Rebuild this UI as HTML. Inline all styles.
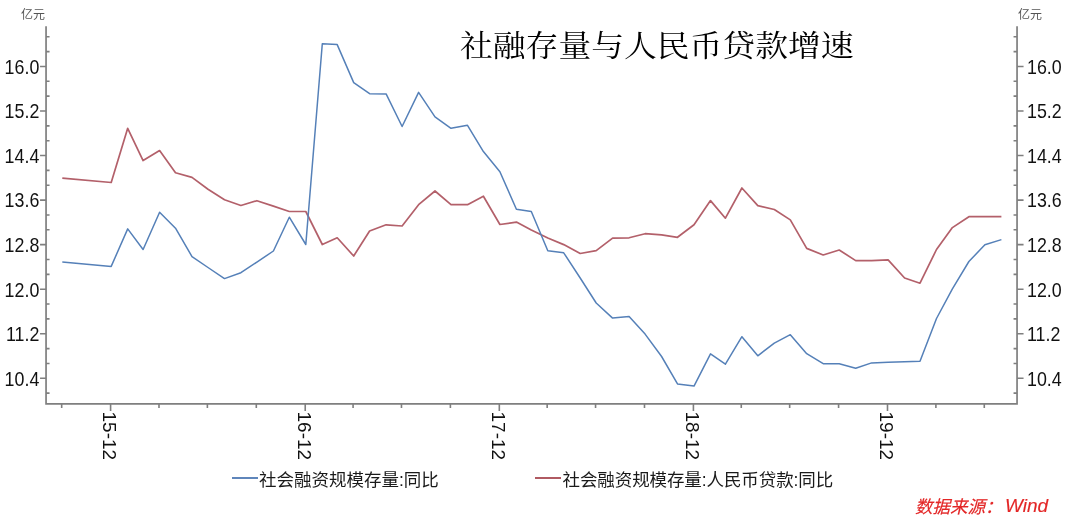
<!DOCTYPE html>
<html><head><meta charset="utf-8"><title>社融存量与人民币贷款增速</title>
<style>
html,body{margin:0;padding:0;background:#fff;}
body{width:1080px;height:521px;overflow:hidden;position:relative;}
svg{position:absolute;left:0;top:0;}
.tk text{font-family:"Liberation Sans","Noto Sans CJK SC",sans-serif;font-size:19.8px;fill:#111;}
.tk text.xl{font-size:19px;}
.unit{position:absolute;top:9px;font-family:"Liberation Sans","Noto Sans CJK SC",sans-serif;font-size:12px;color:#555;line-height:1;}
.title{position:absolute;left:460px;top:31.6px;font-family:"Liberation Serif","Noto Serif CJK SC",serif;font-size:32.8px;color:#000;line-height:1;white-space:nowrap;transform:scale(1,0.9);transform-origin:0 0;}
.leg{position:absolute;top:472px;font-family:"Liberation Sans","Noto Sans CJK SC",sans-serif;font-size:17.5px;color:#1a1a1a;line-height:1;white-space:nowrap;}
.ll{position:absolute;height:2px;top:477px;}
.src{position:absolute;font-family:"Liberation Sans","Noto Sans CJK SC",sans-serif;font-style:italic;color:#e32626;line-height:1;white-space:nowrap;-webkit-text-stroke:0.15px #e32626;}
</style></head><body>
<svg width="1080" height="521" viewBox="0 0 1080 521">
<path d="M46.05,26.3V403.9H1017.05V26.3" fill="none" stroke="#7f7f7f" stroke-width="1.7"/>
<path d="M46.05,36.77H49.55M1013.55,36.77H1017.05M46.05,51.62H49.55M1013.55,51.62H1017.05M40.05,66.47H46.05M1017.05,66.47H1023.55M46.05,81.32H49.55M1013.55,81.32H1017.05M46.05,96.17H49.55M1013.55,96.17H1017.05M40.05,111.02H46.05M1017.05,111.02H1023.55M46.05,125.87H49.55M1013.55,125.87H1017.05M46.05,140.72H49.55M1013.55,140.72H1017.05M40.05,155.57H46.05M1017.05,155.57H1023.55M46.05,170.42H49.55M1013.55,170.42H1017.05M46.05,185.27H49.55M1013.55,185.27H1017.05M40.05,200.12H46.05M1017.05,200.12H1023.55M46.05,214.97H49.55M1013.55,214.97H1017.05M46.05,229.82H49.55M1013.55,229.82H1017.05M40.05,244.67H46.05M1017.05,244.67H1023.55M46.05,259.52H49.55M1013.55,259.52H1017.05M46.05,274.37H49.55M1013.55,274.37H1017.05M40.05,289.22H46.05M1017.05,289.22H1023.55M46.05,304.07H49.55M1013.55,304.07H1017.05M46.05,318.92H49.55M1013.55,318.92H1017.05M40.05,333.77H46.05M1017.05,333.77H1023.55M46.05,348.62H49.55M1013.55,348.62H1017.05M46.05,363.47H49.55M1013.55,363.47H1017.05M40.05,378.32H46.05M1017.05,378.32H1023.55M46.05,393.17H49.55M1013.55,393.17H1017.05M61.68,403.9V407.9M110.60,403.9V410.9M158.99,403.9V407.9M207.38,403.9V407.9M256.30,403.9V407.9M305.22,403.9V410.9M353.08,403.9V407.9M401.47,403.9V407.9M450.39,403.9V407.9M499.32,403.9V410.9M547.17,403.9V407.9M595.56,403.9V407.9M644.49,403.9V407.9M693.41,403.9V410.9M741.27,403.9V407.9M789.66,403.9V407.9M838.58,403.9V407.9M887.50,403.9V410.9M935.89,403.9V407.9M984.28,403.9V407.9" fill="none" stroke="#7f7f7f" stroke-width="1.6"/>
<g class="tk"><text transform="translate(39.3,73.8) scale(0.9,1)" text-anchor="end">16.0</text><text transform="translate(1027,73.8) scale(0.9,1)">16.0</text><text transform="translate(39.3,118.3) scale(0.9,1)" text-anchor="end">15.2</text><text transform="translate(1027,118.3) scale(0.9,1)">15.2</text><text transform="translate(39.3,162.9) scale(0.9,1)" text-anchor="end">14.4</text><text transform="translate(1027,162.9) scale(0.9,1)">14.4</text><text transform="translate(39.3,207.4) scale(0.9,1)" text-anchor="end">13.6</text><text transform="translate(1027,207.4) scale(0.9,1)">13.6</text><text transform="translate(39.3,252.0) scale(0.9,1)" text-anchor="end">12.8</text><text transform="translate(1027,252.0) scale(0.9,1)">12.8</text><text transform="translate(39.3,296.5) scale(0.9,1)" text-anchor="end">12.0</text><text transform="translate(1027,296.5) scale(0.9,1)">12.0</text><text transform="translate(39.3,341.1) scale(0.9,1)" text-anchor="end">11.2</text><text transform="translate(1027,341.1) scale(0.9,1)">11.2</text><text transform="translate(39.3,385.6) scale(0.9,1)" text-anchor="end">10.4</text><text transform="translate(1027,385.6) scale(0.9,1)">10.4</text><text class="xl" transform="translate(102.9,411.5) rotate(90)">15-12</text><text class="xl" transform="translate(297.5,411.5) rotate(90)">16-12</text><text class="xl" transform="translate(491.6,411.5) rotate(90)">17-12</text><text class="xl" transform="translate(685.7,411.5) rotate(90)">18-12</text><text class="xl" transform="translate(879.8,411.5) rotate(90)">19-12</text></g>
<polyline points="62.3,178.1 111.2,182.5 127.7,128.3 143.1,160.6 159.6,150.6 175.5,172.7 192.0,177.4 208.0,189.3 224.5,199.8 240.9,205.5 256.9,200.7 273.4,206.1 289.3,211.5 305.8,211.5 322.3,244.5 337.2,237.8 353.7,256.0 369.6,231.0 386.1,224.8 402.1,226.0 418.6,204.7 435.0,191.0 451.0,204.7 467.5,204.7 483.4,196.2 499.9,224.5 516.4,222.1 531.3,230.1 547.8,238.0 563.7,244.6 580.2,253.5 596.2,250.6 612.6,238.1 629.1,237.8 645.1,233.7 661.6,234.9 677.5,237.3 694.0,224.8 710.5,200.6 725.4,218.2 741.9,188.0 757.8,205.6 774.3,209.5 790.3,219.9 806.7,248.4 823.2,255.0 839.2,250.0 855.7,260.6 871.6,260.6 888.1,259.9 904.6,278.0 920.0,283.2 936.5,249.5 952.4,227.6 968.9,216.7 984.9,216.7 1001.4,216.7" fill="none" stroke="#b3606a" stroke-width="1.7" stroke-linejoin="round"/>
<polyline points="62.3,262.0 111.2,266.4 127.7,228.9 143.1,249.5 159.6,212.3 175.5,228.2 192.0,256.6 208.0,267.5 224.5,278.6 240.9,272.7 256.9,262.1 273.4,251.0 289.3,217.2 305.8,244.5 322.3,43.8 337.2,44.6 353.7,82.6 369.6,93.7 386.1,93.9 402.1,126.5 418.6,92.4 435.0,116.8 451.0,128.3 467.5,125.3 483.4,151.6 499.9,171.7 516.4,209.3 531.3,211.5 547.8,250.8 563.7,252.8 580.2,278.0 596.2,303.0 612.6,318.1 629.1,316.6 645.1,334.1 661.6,356.5 677.5,383.9 694.0,386.1 710.5,353.8 725.4,364.2 741.9,336.7 757.8,355.8 774.3,343.1 790.3,334.7 806.7,353.7 823.2,363.7 839.2,363.7 855.7,368.2 871.6,362.9 888.1,362.3 904.6,361.8 920.0,361.3 936.5,318.5 952.4,288.8 968.9,261.5 984.9,244.8 1001.4,239.6" fill="none" stroke="#5580b8" stroke-width="1.5" stroke-linejoin="round"/>
</svg>
<div class="unit" style="left:21px">亿元</div>
<div class="unit" style="left:1018px">亿元</div>
<div class="title">社融存量与人民币贷款增速</div>
<div class="ll" style="left:231.6px;width:26px;background:#5f86bb"></div>
<div class="leg" style="left:259px">社会融资规模存量:同比</div>
<div class="ll" style="left:535.2px;width:25.6px;background:#b05a62"></div>
<div class="leg" style="left:562.5px;letter-spacing:-0.09px">社会融资规模存量:人民币贷款:同比</div>
<div class="src" style="left:915px;top:499px;font-size:17.5px">数据来源：</div>
<div class="src" style="left:1005px;top:496.3px;font-size:19px">Wind</div>
</body></html>
